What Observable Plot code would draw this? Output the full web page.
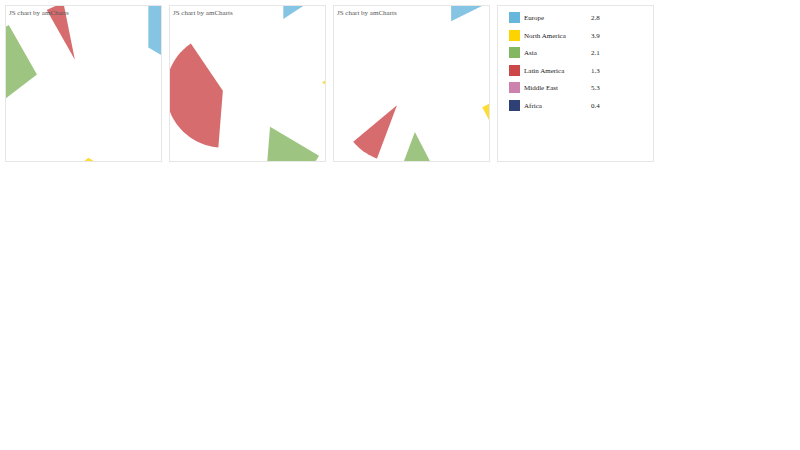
<!DOCTYPE html>
<html>
<head>
<meta charset="utf-8">
<script src="https://cdn.jsdelivr.net/npm/d3@7"></script>
<script src="https://cdn.jsdelivr.net/npm/@observablehq/plot@0.6"></script>
<style>
  html, body { margin: 0; padding: 0; background: #fff; }
  #root { position: relative; width: 800px; height: 450px; font-family: "Liberation Serif", "Times New Roman", serif; }
  .panel { position: absolute; top: 5px; width: 157px; height: 157px; }
  .panel svg { display: block; }
  .border { position: absolute; left: 0; top: 0; width: 157px; height: 157px; box-sizing: border-box; border: 1px solid #e6e6e6; pointer-events: none; }
  .credit { position: absolute; left: 4px; top: 4px; font-size: 7px; color: #555; pointer-events: none; white-space: nowrap; }
  .legend { position: absolute; top: 5px; left: 497px; width: 157px; height: 157px; box-sizing: border-box; border: 1px solid #e6e6e6; }
  .row { position: absolute; left: 11px; height: 12px; font-size: 7px; color: #222; }
  .sw { position: absolute; left: 0; top: 0; width: 11px; height: 11px; }
  .lab { position: absolute; left: 15px; top: 2px; white-space: nowrap; }
  .val { position: absolute; left: 82px; top: 2px; white-space: nowrap; }
</style>
</head>
<body>
<div id="root"></div>
<script>
// ---- data ----
const categories = ["Europe", "North America", "Asia", "Latin America", "Middle East", "Africa"];
const colors = ["#67b7dc", "#fdd400", "#84b761", "#cc4748", "#cd82ad", "#2f4074"];
const valuesChart1 = [5.3, 4.9, 4.3, 0.8, 0.4, 0.1];
const valuesChart2 = [2.5, 2.8, 2.8, 6.2, 1.1, 0.4];
const valuesChart3 = [2.8, 3.9, 2.1, 1.3, 5.3, 0.4];
const creditText = "JS chart by amCharts";

// ---- slice styling (pulled-out distance per category, radius) ----
const pullOut = [74, 74, 48, 26, 110, 120];
const radius = 57;
const half = 78.5;

function sliceRows(values) {
  const total = d3.sum(values);
  const rows = [];
  let a = 0;
  values.forEach((v, i) => {
    const a0 = a, a1 = a + v / total * 360;
    a = a1;
    const mid = (a0 + a1) / 2 * Math.PI / 180;
    const cx = pullOut[i] * Math.sin(mid), cy = pullOut[i] * Math.cos(mid);
    const cat = categories[i];
    rows.push({cat, x: cx, y: cy});
    const n = Math.max(2, Math.ceil((a1 - a0) / 2));
    for (let k = 0; k <= n; k++) {
      const t = (a0 + (a1 - a0) * k / n) * Math.PI / 180;
      rows.push({cat, x: cx + radius * Math.sin(t), y: cy + radius * Math.cos(t)});
    }
    rows.push({cat, x: cx, y: cy});
  });
  return rows;
}

const root = document.getElementById("root");
[valuesChart1, valuesChart2, valuesChart3].forEach((vals, p) => {
  const div = document.createElement("div");
  div.className = "panel";
  div.style.left = (5 + p * 164) + "px";
  const chart = Plot.plot({
    width: 157, height: 157, margin: 0,
    x: {domain: [-half, half], axis: null},
    y: {domain: [-half, half], axis: null},
    color: {domain: categories, range: colors},
    style: {background: "transparent"},
    marks: [
      Plot.line(sliceRows(vals), {x: "x", y: "y", z: "cat", fill: "cat", fillOpacity: 0.8, stroke: "none", clip: true})
    ]
  });
  div.appendChild(chart);
  const border = document.createElement("div");
  border.className = "border";
  div.appendChild(border);
  const credit = document.createElement("div");
  credit.className = "credit";
  credit.textContent = creditText;
  div.appendChild(credit);
  root.appendChild(div);
});

const legend = document.createElement("div");
legend.className = "legend";
categories.forEach((c, i) => {
  const row = document.createElement("div");
  row.className = "row";
  row.style.top = (6 + i * 17.5) + "px";
  row.innerHTML = `<div class="sw" style="background:${colors[i]}"></div><div class="lab">${c}</div><div class="val">${valuesChart3[i].toFixed(1)}</div>`;
  legend.appendChild(row);
});
root.appendChild(legend);
</script>
</body>
</html>
